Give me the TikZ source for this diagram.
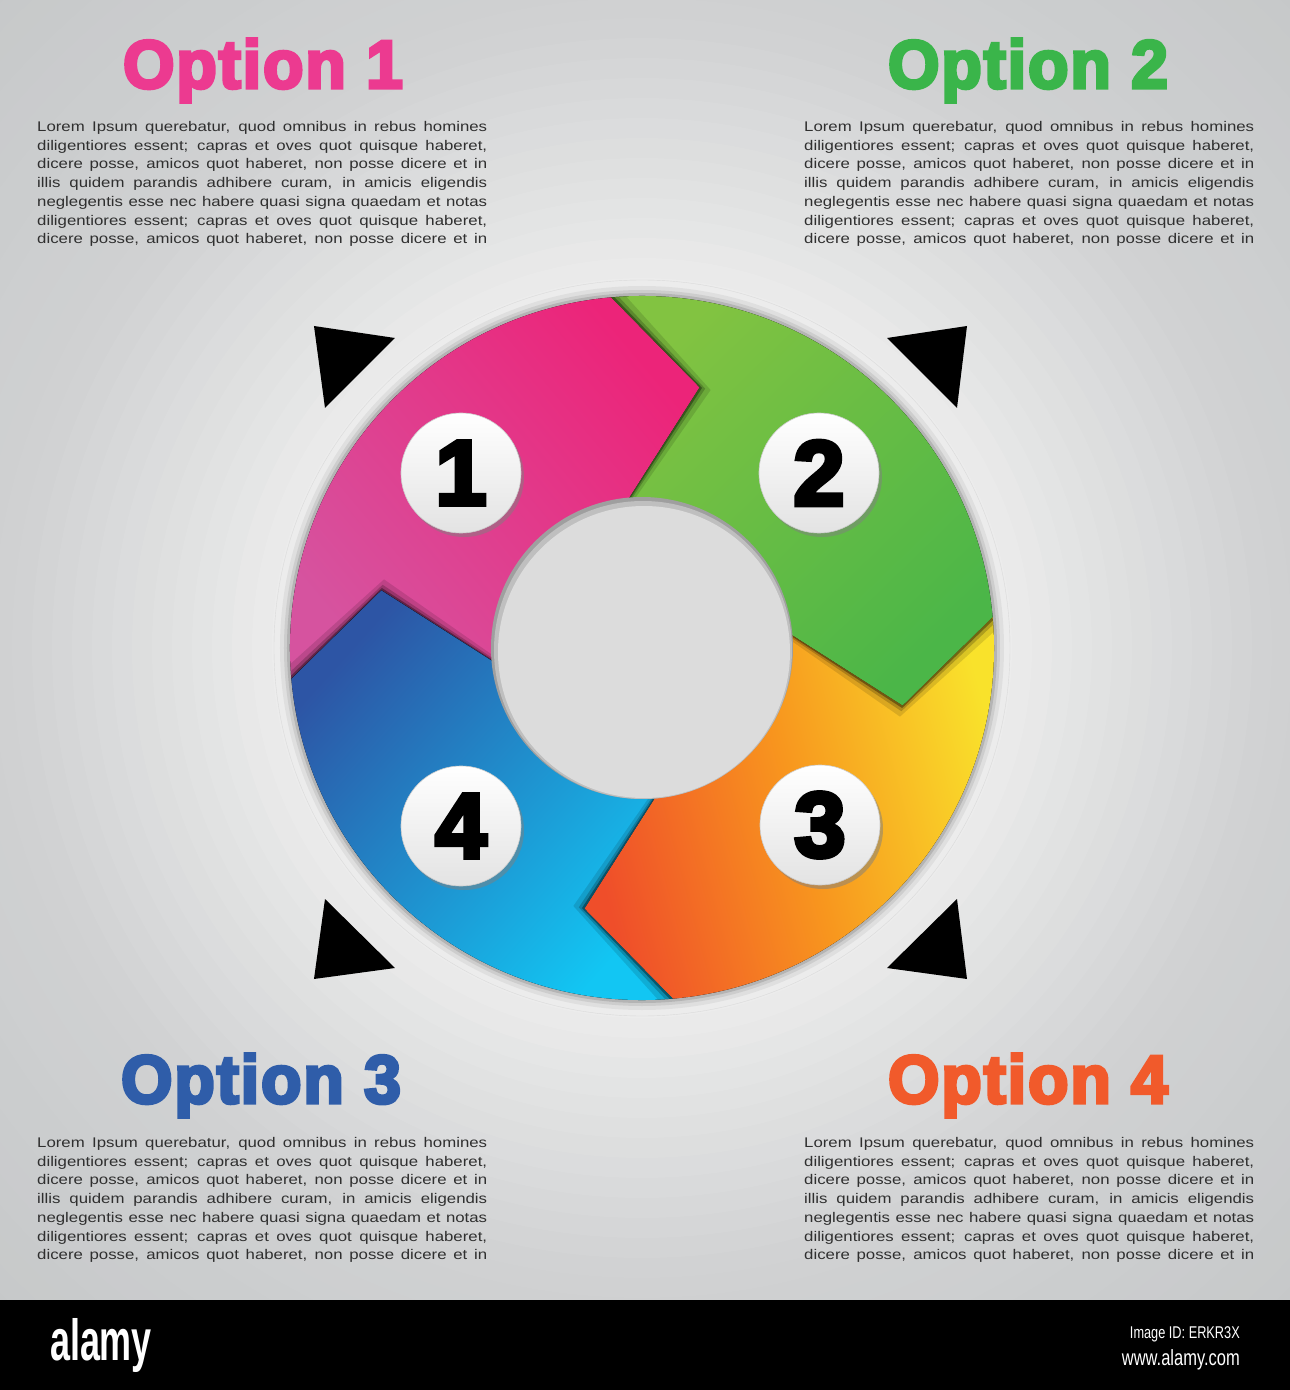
\documentclass[tikz,border=0pt]{standalone}
\usepackage{fontspec}
\setmainfont{Liberation Sans}
\newfontfamily\bodyfont[FakeStretch=1.2]{Liberation Sans}
\newfontfamily\heavyfont[FakeBold=5,FakeStretch=0.97,LetterSpace=3]{Liberation Sans Bold}
\newfontfamily\digitfont[FakeBold=5]{Liberation Sans Bold}
\newfontfamily\logofont[FakeStretch=0.62]{Liberation Sans Bold}
\newfontfamily\idfont[FakeStretch=0.75]{Liberation Sans}
\usetikzlibrary{shadows}

\definecolor{optpink}{HTML}{EC3A90}
\definecolor{optgreen}{HTML}{3AB54A}
\definecolor{optblue}{HTML}{2F5DA9}
\definecolor{optorange}{HTML}{F15A2B}
\definecolor{bodygray}{HTML}{2F2F2F}
\definecolor{bgin}{HTML}{F0F0F0}
\definecolor{bgout}{HTML}{C6C8C9}
\definecolor{halo}{HTML}{ECECEC}
\definecolor{haloedge}{HTML}{DADADA}
\definecolor{hole}{HTML}{DCDCDC}
\definecolor{pinkA}{HTML}{EC2479}
\definecolor{pinkB}{HTML}{D6539F}
\definecolor{greenA}{HTML}{82C341}
\definecolor{greenB}{HTML}{4BB648}
\definecolor{yellowA}{HTML}{F9E22B}
\definecolor{orangeA}{HTML}{F8961E}
\definecolor{redA}{HTML}{EF4E2A}
\definecolor{blueA}{HTML}{2D55A5}
\definecolor{blueB}{HTML}{12C6F3}

\newcommand{\segpath}[1]{(#1:352pt) arc[start angle=#1, end angle=#1-90, radius=352pt]
  -- (#1-107.5:267pt) -- (#1-90:150pt) arc[start angle=#1-90, end angle=#1, radius=150pt]
  -- (#1-17.5:267pt) -- cycle}
\newcommand{\jl}[1]{\makebox[450pt][s]{#1}}
\newcommand{\loremblock}{\jl{Lorem Ipsum querebatur, quod omnibus in rebus homines}\\
\jl{diligentiores essent; capras et oves quot quisque haberet,}\\
\jl{dicere posse, amicos quot haberet, non posse dicere et in}\\
\jl{illis quidem parandis adhibere curam, in amicis eligendis}\\
\jl{neglegentis esse nec habere quasi signa quaedam et notas}\\
\jl{diligentiores essent; capras et oves quot quisque haberet,}\\
\jl{dicere posse, amicos quot haberet, non posse dicere et in}}

\begin{document}
\begin{tikzpicture}[x=1pt,y=1pt,
  title/.style={font=\heavyfont\fontsize{68}{80}\selectfont, anchor=base, inner sep=0},
  para/.style={font=\bodyfont\fontsize{14}{18.75}\selectfont, text=bodygray, align=left, anchor=north west, inner sep=0},
  badge/.style={circle, minimum size=120pt, inner sep=0, top color=white, bottom color=gray!22,
    draw=gray!40, line width=.6pt, drop shadow={shadow xshift=3pt, shadow yshift=-4pt, opacity=.5},
    font=\digitfont\fontsize{92}{92}\selectfont},
  pinkseg/.style={top color=pinkA, bottom color=pinkB, shading angle=-50},
  greenseg/.style={top color=greenA, bottom color=greenB, shading angle=44},
  orangeseg/.style={top color=yellowA, bottom color=redA, middle color=orangeA, shading angle=-75},
  blueseg/.style={top color=blueA, bottom color=blueB, shading angle=48}]
\useasboundingbox (-642,-742) rectangle (648,648);
\begin{scope}
  \clip (-642,-652) rectangle (648,648);
  \foreach \i in {0,...,30}{
    \pgfmathsetmacro\rr{950-20*\i}
    \pgfmathtruncatemacro\mix{\rr>640 ? (950-\rr)/310*24 : min(100,24+(640-\rr)/270*66)}
    \fill[bgin!\mix!bgout] (0,0) circle[radius=\rr pt];
  }
\end{scope}
\fill (-642,-742) rectangle (648,-652);

\fill[halo, draw=haloedge] (0,0) circle[radius=368pt];
\fill[black, opacity=.05] (0,0) circle[radius=362pt];
\fill[black, opacity=.08] (0,0) circle[radius=358pt];
\fill[black, opacity=.12] (0,0) circle[radius=355pt];

\fill[pinkseg] \segpath{185};
\fill[greenseg] \segpath{95};
\fill[orangeseg] \segpath{5};
\fill[blueseg] \segpath{-85};
\foreach \a in {185,95,5,-85}{
  \begin{scope}
    \clip \segpath{\a-90};
    \fill[black, opacity=.12, rotate=-2.4] \segpath{\a};
    \fill[black, opacity=.2, rotate=-1.2] \segpath{\a};
    \fill[black, opacity=.35, rotate=-.5] \segpath{\a};
  \end{scope}
}

\fill[gray!75] (0,0) circle[radius=151pt];
\fill[gray!50] (1,-2) circle[radius=149pt];
\fill[hole] (2,-4) circle[radius=146pt];

\fill (-328,322) -- (-247,310) -- (-317,240) -- cycle;
\fill (325,322) -- (245,310) -- (315,240) -- cycle;
\fill (-328,-331) -- (-247,-320) -- (-317,-251) -- cycle;
\fill (325,-331) -- (245,-320) -- (315,-251) -- cycle;

\node[badge] (b1) at (-181,175) {1};
\node[badge] (b2) at (177,175) {2};
\node[badge] (b3) at (178,-177) {3};
\node[badge] (b4) at (-181,-178) {4};

\node[title, text=optpink] (opt1) at (-379,560) {Option 1};
\node[title, text=optgreen] (opt2) at (386,560) {Option 2};
\node[title, text=optblue] (opt3) at (-381,-455) {Option 3};
\node[title, text=optorange] (opt4) at (386,-455) {Option 4};

\node[para] (txt1) at (-605,527) {\loremblock};
\node[para] (txt2) at (162,527) {\loremblock};
\node[para] (txt3) at (-605,-489) {\loremblock};
\node[para] (txt4) at (162,-489) {\loremblock};

\node[text=white, font=\logofont\fontsize{58}{60}\selectfont, anchor=base, inner sep=0] (logo) at (-541,-712) {alamy};
\node[text=white, font=\idfont\fontsize{17}{18}\selectfont, anchor=base east, inner sep=0] (imgid) at (598,-690) {Image ID: ERKR3X};
\node[text=white, font=\idfont\fontsize{22}{24}\selectfont, anchor=base east, inner sep=0] (site) at (598,-717) {www.alamy.com};
\end{tikzpicture}
\end{document}
